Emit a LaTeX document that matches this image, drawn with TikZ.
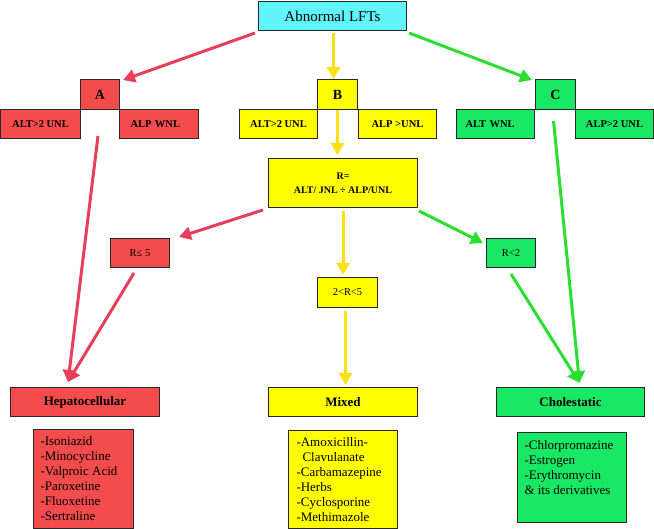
\documentclass[tikz,border=0pt]{standalone}
\usepackage{fontspec}
\setmainfont{Liberation Serif}
\usetikzlibrary{arrows.meta,calc}
\definecolor{cyanbox}{RGB}{95,245,250}
\definecolor{redbox}{RGB}{244,76,76}
\definecolor{yelbox}{RGB}{255,255,0}
\definecolor{grnbox}{RGB}{25,232,100}
\definecolor{redarr}{RGB}{232,62,92}
\definecolor{yelarr}{RGB}{250,225,20}
\definecolor{grnarr}{RGB}{45,222,50}
\definecolor{bordercol}{RGB}{40,40,40}
\begin{document}
\begin{tikzpicture}[x=1pt,y=-1pt,
  box/.style={draw=bordercol, line width=1pt, inner sep=0pt, anchor=north west, align=center, text=black},
  lbl/.style={font=\bfseries\fontsize{10.5}{12}\selectfont},
  big/.style={font=\bfseries\fontsize{14}{16}\selectfont},
  head/.style={font=\bfseries\fontsize{13}{15}\selectfont},
  small/.style={font=\fontsize{10.5}{12}\selectfont},
  lst/.style={font=\fontsize{13}{15}\selectfont},
  arr/.style={line width=3pt, -{Triangle[length=12pt,width=13pt]}},
]
\useasboundingbox (0,0) rectangle (654,529);

% top
\node[box, fill=cyanbox, minimum width=148pt, minimum height=29pt, font=\fontsize{15}{17}\selectfont] (top) at (258,1) {Abnormal LFTs};

% A B C
\node[box, fill=redbox, minimum width=39pt, minimum height=30pt, big] (A) at (80,79) {A};
\node[box, fill=yelbox, minimum width=40pt, minimum height=30pt, big] (B) at (317,79) {B};
\node[box, fill=grnbox, minimum width=40pt, minimum height=30pt, big] (C) at (535,79) {C};

% criteria
\node[box, fill=redbox, minimum width=80pt, minimum height=29pt, lbl] (altA) at (0,109) {ALT>2 UNL};
\node[box, fill=redbox, minimum height=29pt, inner xsep=11pt, text width=57pt, align=left, lbl] (alpA) at (119,109) {ALP WNL};
\node[box, fill=yelbox, minimum width=78pt, minimum height=29pt, lbl] (altB) at (239,109) {ALT>2 UNL};
\node[box, fill=yelbox, minimum width=78pt, minimum height=29pt, lbl] (alpB) at (358,109) {ALP >UNL};
\node[box, fill=grnbox, minimum height=29pt, inner xsep=9pt, text width=60pt, align=left, lbl] (altC) at (456,109) {ALT WNL};
\node[box, fill=grnbox, minimum width=78pt, minimum height=29pt, lbl] (alpC) at (575,109) {ALP>2 UNL};

% R box
\node[box, fill=yelbox, minimum width=149pt, minimum height=49pt, font=\bfseries\fontsize{10}{14}\selectfont] (R) at (268,158) {R=\\ALT/ JNL ÷ ALP/UNL};

\node[box, fill=redbox, minimum width=59pt, minimum height=29pt, small] (r5) at (110,238) {R≤ 5};
\node[box, fill=yelbox, minimum width=60pt, minimum height=30pt, small] (mid) at (317,277) {2<R<5};
\node[box, fill=grnbox, minimum width=49pt, minimum height=29pt, small] (r2) at (486,238) {R<2};

% results
\node[box, fill=redbox, minimum width=149pt, minimum height=29pt, head] (hep) at (10,387) {Hepatocellular};
\node[box, fill=yelbox, minimum width=149pt, minimum height=29pt, head] (mixed) at (268,387) {Mixed};
\node[box, fill=grnbox, minimum width=148pt, minimum height=29pt, head] (chol) at (496,387) {Cholestatic};

% lists
\node[box, fill=redbox, lst] (hlist) at (33,429) {\parbox[c][99pt][t]{100pt}{\leftskip=7pt\vspace*{7pt}-Isoniazid\\-Minocycline\\-Valproic Acid\\-Paroxetine\\-Fluoxetine\\-Sertraline}};
\node[box, fill=yelbox, lst] (mlist) at (288,430) {\parbox[c][98pt][t]{109pt}{\leftskip=8pt\vspace*{7pt}-Amoxicillin-\\\hspace*{6pt}Clavulanate\\-Carbamazepine\\-Herbs\\-Cyclosporine\\-Methimazole}};
\node[box, fill=grnbox, lst] (clist) at (517,432) {\parbox[c][90pt][t]{109pt}{\leftskip=7pt\vspace*{8pt}-Chlorpromazine\\-Estrogen\\-Erythromycin\\\& its derivatives}};

% arrows from top
\draw[arr, redarr] ($(top.south west)+(-3,2)$) -- ($(A.north east)+(3,1)$);
\draw[arr, yelarr] ($(top.south)+(1,2)$) -- ($(top.south |- B.north)+(1,0)$);
\draw[arr, grnarr] ($(top.south east)+(2,2)$) -- ($(C.north west)+(-3,1)$);

% column A
\draw[arr, redarr] ($(A.south)+(-2,26)$) -- ($(hep.north)+(-17,-5)$);
% column B
\draw[arr, yelarr] (B.south) -- ($(B.south |- R.north)+(0,-3)$);
% column C
\draw[arr, grnarr] ($(C.south)+(-2,11)$) -- ($(chol.north)+(9,-4)$);

% from R
\draw[arr, redarr] ($(R.south west)+(-5,2)$) -- ($(r5.north east)+(9,-1)$);
\draw[arr, yelarr] ($(R.south)+(0,3)$) -- ($(R.south |- mid.north)+(0,-2)$);
\draw[arr, grnarr] ($(R.south east)+(1,3)$) -- ($(r2.north west)+(-3,5)$);

% to results
\draw[arr, redarr] ($(r5.south)+(-6,5)$) -- ($(hep.north)+(-17,-5)$);
\draw[arr, yelarr] ($(mid.south)+(-2,3)$) -- ($(mid.south |- mixed.north)+(-2,-2)$);
\draw[arr, grnarr] ($(r2.south)+(0,6)$) -- ($(chol.north)+(9,-4)$);
\end{tikzpicture}
\end{document}
